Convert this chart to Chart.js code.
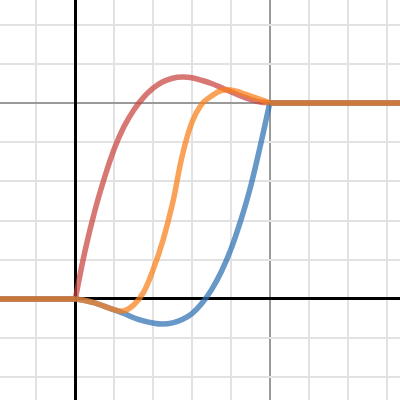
<!DOCTYPE html>
<html>
<head>
<meta charset="utf-8">
<script src="https://cdn.jsdelivr.net/npm/chart.js@4.4.1/dist/chart.umd.min.js"></script>
<style>
  html, body { margin: 0; padding: 0; background: #fff; }
  #wrap { width: 400px; height: 400px; }
</style>
</head>
<body>
<div id="wrap"><canvas id="plot"></canvas></div>
<script>
// sample positions along x (0..1) and the three curves
var xs = [0, 0.05, 0.1, 0.15, 0.2, 0.25, 0.3, 0.35, 0.4, 0.45, 0.5,
          0.55, 0.6, 0.65, 0.7, 0.75, 0.8, 0.85, 0.9, 0.95, 1];
var redY = [0, 0.245, 0.448, 0.618, 0.765, 0.878, 0.963, 1.027, 1.075, 1.108, 1.126,
            1.132, 1.128, 1.115, 1.099, 1.078, 1.057, 1.036, 1.018, 1.005, 1];
var orangeY = [0, -0.008, -0.02, -0.038, -0.055, -0.061, -0.031, 0.032, 0.149, 0.296, 0.487,
               0.731, 0.902, 0.994, 1.035, 1.063, 1.066, 1.053, 1.035, 1.018, 1];
var blueY = [0, -0.008, -0.02, -0.038, -0.056, -0.074, -0.096, -0.112, -0.123, -0.128, -0.122,
             -0.105, -0.075, -0.024, 0.046, 0.137, 0.253, 0.398, 0.568, 0.776, 1];

// flat parts outside 0..1
var leftTailX = [-0.45, 0];
var leftTailY = [0, 0];
var rightTailX = [1, 1.75];
var rightTailY = [1, 1];

// grid lines (every 0.2)
var gridX = [-0.2, 0, 0.2, 0.4, 0.6, 0.8, 1, 1.2, 1.4, 1.6];
var gridY = [-0.4, -0.2, 0, 0.2, 0.4, 0.6, 0.8, 1, 1.2, 1.4];

var RED = 'rgba(199, 68, 64, 0.72)';
var BLUE = 'rgba(45, 112, 179, 0.72)';
var ORANGE = 'rgba(250, 126, 25, 0.72)';

function curve(ys) {
  return xs.map(function(x, i) { return {x: x, y: ys[i]}; });
}

function tails() {
  var pts = leftTailX.map(function(x, i) { return {x: x, y: leftTailY[i]}; });
  pts.push({x: 0.5, y: null});
  rightTailX.forEach(function(x, i) { pts.push({x: x, y: rightTailY[i]}); });
  return pts;
}

function lineSet(data, color, smooth) {
  return {
    data: data,
    borderColor: color,
    borderWidth: 5.5,
    pointRadius: 0,
    tension: smooth ? 0.4 : 0,
    fill: false,
    borderCapStyle: 'butt',
    borderJoinStyle: 'round'
  };
}

function gridColor(ctx) {
  var v = ctx.tick.value;
  if (Math.abs(v) < 1e-9) return '#000';
  if (Math.abs(v - 1) < 1e-9) return '#9a9a9a';
  return '#e2e2e2';
}

// first dataset ends up on top
var chart = new Chart(document.getElementById('plot').getContext('2d'), {
  type: 'line',
  data: {
    datasets: [
      lineSet(curve(orangeY), ORANGE, true),
      lineSet(tails(), ORANGE, false),
      lineSet(curve(blueY), BLUE, true),
      lineSet(tails(), BLUE, false),
      lineSet(curve(redY), RED, true),
      lineSet(tails(), RED, false)
    ]
  },
  options: {
    responsive: true,
    maintainAspectRatio: false,
    animation: false,
    layout: { padding: 0 },
    plugins: {
      legend: { display: false },
      tooltip: { enabled: false }
    },
    scales: {
      x: {
        type: 'linear',
        min: -0.3871,
        max: 1.6694,
        position: { y: 0 },
        afterBuildTicks: function(axis) {
          axis.ticks = gridX.map(function(v) { return {value: v}; });
        },
        ticks: { display: false },
        grid: { color: gridColor, lineWidth: 2, drawTicks: false },
        border: { display: true, color: '#000', width: 3 }
      },
      y: {
        type: 'linear',
        min: -0.5158,
        max: 1.525,
        position: { x: 0 },
        afterBuildTicks: function(axis) {
          axis.ticks = gridY.map(function(v) { return {value: v}; });
        },
        ticks: { display: false },
        grid: { color: gridColor, lineWidth: 2, drawTicks: false },
        border: { display: true, color: '#000', width: 3 }
      }
    }
  }
});
</script>
</body>
</html>
